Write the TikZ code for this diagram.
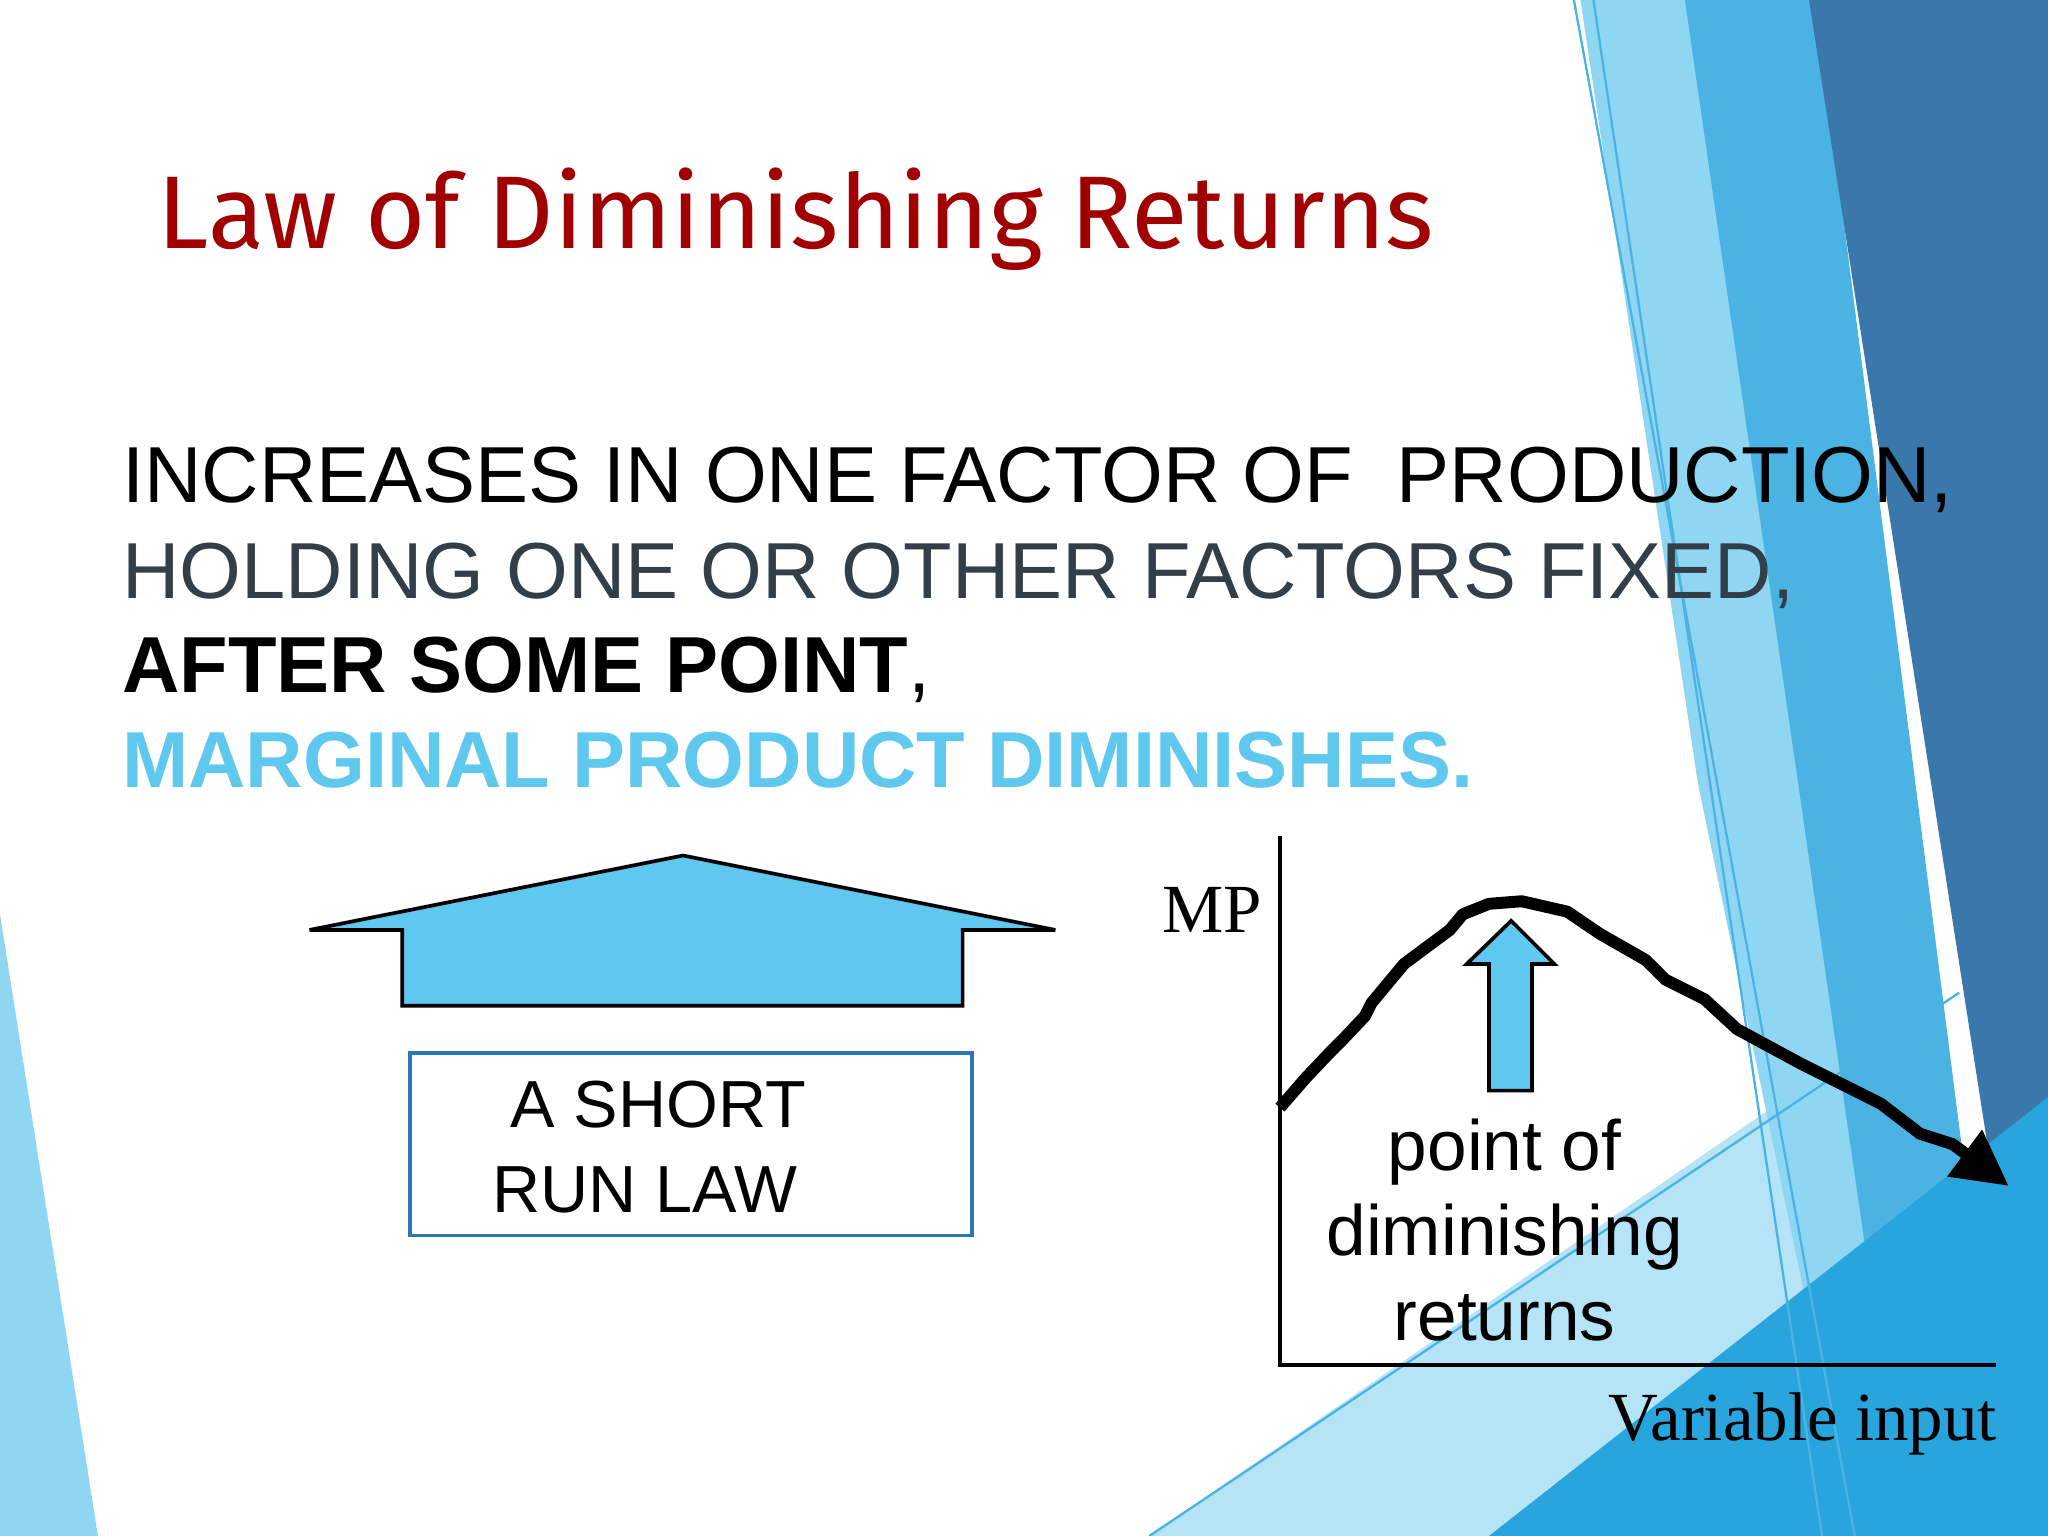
\documentclass[tikz,border=0pt]{standalone}
\usepackage{fontspec}
\setmainfont{Liberation Sans}
\newfontfamily\titlefont{Fira Sans}
\newfontfamily\timesf{Liberation Serif}
\usetikzlibrary{arrows.meta}
\definecolor{titlered}{HTML}{A00000}
\definecolor{mpblue}{HTML}{5EC8EE}
\definecolor{boxblue}{HTML}{2E75B6}
\definecolor{greytext}{HTML}{333F48}
\definecolor{bgA}{HTML}{8FD6F3}
\definecolor{bgB}{HTML}{4BB3E3}
\definecolor{bgC}{HTML}{3A78AB}
\definecolor{bgD}{HTML}{29A5DD}
\definecolor{bgE}{HTML}{B5E4F7}
\begin{document}
\begin{tikzpicture}[x=0.01cm,y=-0.01cm,
  body/.style={anchor=base west,font=\fontsize{17.3}{21}\selectfont,inner sep=0},
  mparrow/.style={fill=mpblue,draw=black,line width=0.8pt}]
\useasboundingbox (0,0) rectangle (1568,1176);
\fill[white] (0,0) rectangle (1568,1176);
% background decoration
\fill[bgE] (880,1176) -- (1470,770) -- (1568,1176) -- cycle;
\fill[bgA] (1210,0) -- (1390,0) -- (1530,1176) -- (1420,1176) -- (1300,600) -- cycle;
\fill[bgB] (1290,0) -- (1390,0) -- (1540,1176) -- (1460,1176) -- cycle;
\fill[bgC] (1385,0) -- (1568,0) -- (1568,860) -- (1530,930) -- cycle;
\fill[bgD] (1140,1176) -- (1568,840) -- (1568,1176) -- cycle;
\draw[bgB,line width=0.5pt] (1205,0) -- (1420,1176);
\draw[bgB,line width=0.5pt] (1220,0) -- (1395,1176);
\draw[bgB,line width=0.5pt] (880,1176) -- (1500,760);
\fill[bgA] (0,700) -- (75,1176) -- (0,1176) -- cycle;
% title
\node[anchor=base west,inner sep=0,text=titlered,font=\titlefont\fontsize{22.5}{27}\selectfont] (title) at (120,190) {Law of Diminishing Returns};
% body text
\node[body] (l1) at (93,385) {INCREASES IN ONE FACTOR OF\ \ PRODUCTION,};
\node[body,text=greytext] (l2) at (93,458) {HOLDING ONE OR OTHER FACTORS FIXED,};
\node[body] (l3) at (93,530) {\textbf{AFTER SOME POINT},};
\node[body,text=mpblue] (l4) at (93,603) {\textbf{MARGINAL PRODUCT DIMINISHES.}};
% left arrow shape
\draw[mparrow] (237,712) -- (523,655) -- (808,712) -- (737,712) -- (737,770) -- (308,770) -- (308,712) -- cycle;
\node[draw=boxblue,line width=0.8pt,minimum width=4.3cm,minimum height=1.4cm,inner sep=0] (box) at (529,876) {};
\node[align=left,font=\fontsize{14.5}{18.5}\selectfont,inner sep=0] (boxtxt) at (497,878) {\ A SHORT\\RUN LAW};
% graph
\coordinate (ytop) at (980,640);
\coordinate (orig) at (980,1045);
\coordinate (xend) at (1528,1045);
\draw[line width=1pt] (ytop) -- (orig) -- (xend);
\node[font=\timesf\fontsize{15}{18}\selectfont,inner sep=0] (mp) at (928,697) {MP};
\node[font=\timesf\fontsize{15}{18}\selectfont,inner sep=0] (vi) at (1380,1090) {Variable input};
\draw[line width=2.6pt,line join=round,-{Triangle[length=12pt,width=12pt]}]
  (980,848) -- (1000,825) -- (1018,806) -- (1028,796) -- (1045,778) -- (1050,768) -- (1075,738) -- (1110,712) -- (1120,700) -- (1140,692) -- (1165,690) -- (1200,698) -- (1225,715) -- (1260,735) -- (1275,750) -- (1305,765) -- (1330,788) -- (1380,815) -- (1440,845) -- (1470,868) -- (1495,876) -- (1538,908);
\draw[mparrow] (1140,835) -- (1140,738) -- (1123,738) -- (1157,705) -- (1190,738) -- (1173,738) -- (1173,835) -- cycle;
\node[align=center,font=\fontsize{15.5}{18.5}\selectfont,inner sep=0] (pt) at (1152,942) {point of\\diminishing\\returns};
\end{tikzpicture}
\end{document}
